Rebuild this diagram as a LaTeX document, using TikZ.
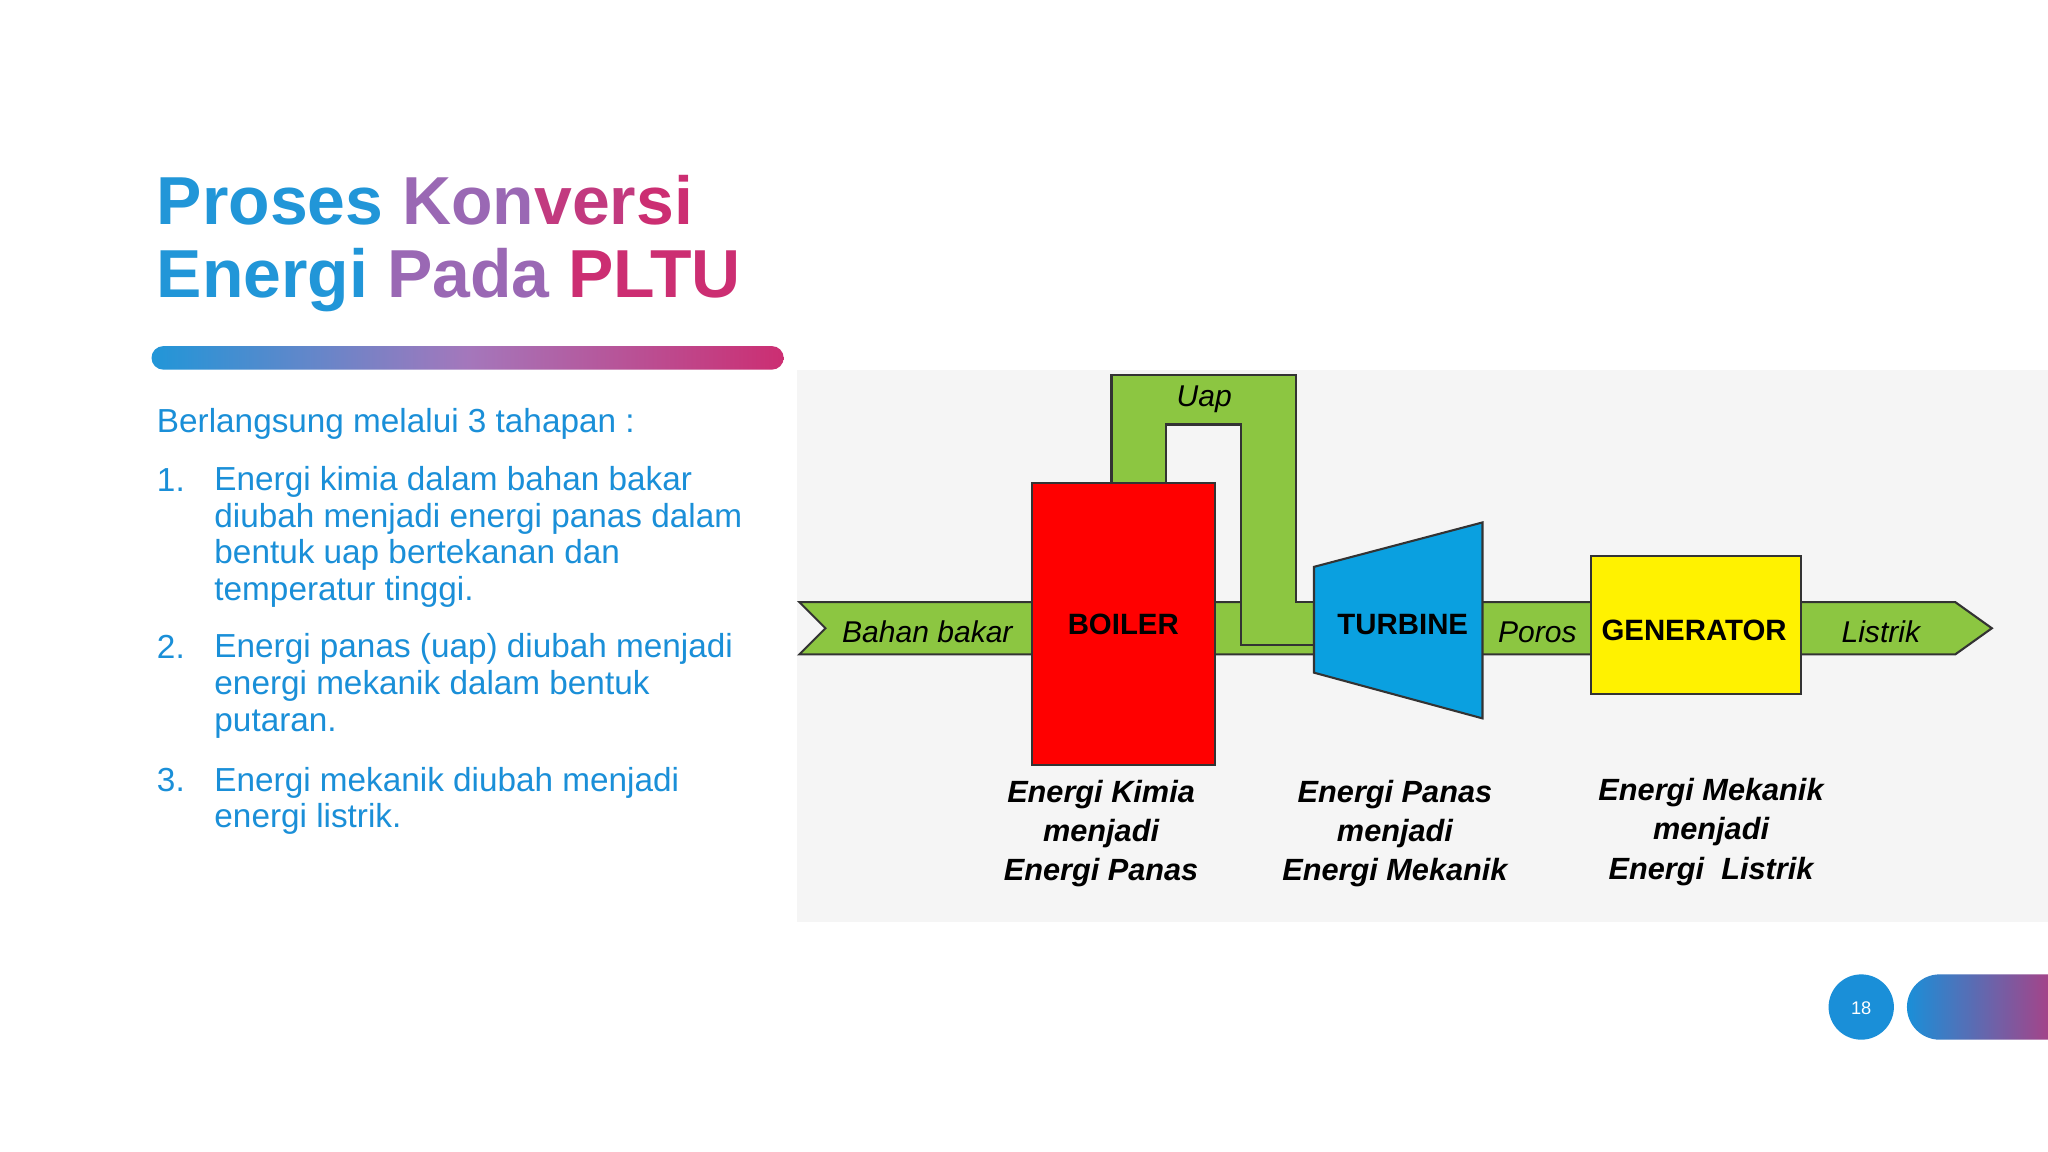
\documentclass[tikz,border=0pt]{standalone}
\usepackage{fontspec}
\setmainfont{Liberation Sans}
\begin{document}
\begin{tikzpicture}[x=1pt,y=-1pt,
  body/.style={anchor=base west,font=\fontsize{25.5}{28}\selectfont,text=txtblue,inner sep=0},
  lab/.style={font=\fontsize{23}{26}\selectfont\itshape,inner sep=0},
  big/.style={font=\fontsize{22.5}{26}\selectfont\bfseries,inner sep=0},
  caplab/.style={font=\fontsize{23.5}{30}\selectfont\bfseries\itshape,align=center,inner sep=0},
  shp/.style={draw=black!80,line width=1.6pt,line join=miter}]
\definecolor{txtblue}{HTML}{1A8FD8}
\definecolor{tblue}{HTML}{2196D8}
\definecolor{tpurp}{HTML}{9A68B4}
\definecolor{tmag}{HTML}{CC2E72}
\definecolor{gr}{HTML}{8CC641}
\definecolor{tb}{HTML}{0AA0E0}
\useasboundingbox (0,0) rectangle (1568,882);
\fill[white] (0,0) rectangle (1568,882);
% title
\node[anchor=base west,inner sep=0,font=\fontsize{52}{56}\selectfont\bfseries] (t1) at (120,172) {\textcolor{tblue}{Proses} \textcolor{tpurp}{Kon}\textcolor{tmag!80!tpurp}{ver}\textcolor{tmag}{si}};
\node[anchor=base west,inner sep=0,font=\fontsize{52}{56}\selectfont\bfseries] (t2) at (120,228) {\textcolor{tblue}{Energi} \textcolor{tpurp}{Pada} \textcolor{tmag}{PLTU}};
\shade[left color=tblue,right color=tmag,middle color=tpurp!90,rounded corners=9pt] (116,265) rectangle (600,283);
% body
\node[body] (b0) at (120,331) {Berlangsung melalui 3 tahapan :};
\node[body] (n1) at (120,376) {1.};
\node[body,align=left,anchor=north west] (i1) at (164,357) {Energi kimia dalam bahan bakar\\diubah menjadi energi panas dalam\\bentuk uap bertekanan dan\\temperatur tinggi.};
\node[body] (n2) at (120,504) {2.};
\node[body,align=left,anchor=north west] (i2) at (164,485) {Energi panas (uap) diubah menjadi\\energi mekanik dalam bentuk\\putaran.};
\node[body] (n3) at (120,606) {3.};
\node[body,align=left,anchor=north west] (i3) at (164,587) {Energi mekanik diubah menjadi\\energi listrik.};
% diagram
\fill[gray!8] (610,283) rectangle (1568,706);
\draw[shp,fill=gr] (612,461) -- (1497,461) -- (1525,481) -- (1497,501) -- (612,501) -- (632,481) -- cycle;
\draw[shp,fill=gr] (851,372) -- (851,287) -- (992,287) -- (992,461) -- (1006,461) -- (1006,494) -- (950,494) -- (950,325) -- (893,325) -- (893,372) -- cycle;
\draw[shp,fill=red] (790,370) rectangle (930,586);
\draw[shp,fill=tb] (1006,434) -- (1135,400) -- (1135,550) -- (1006,515) -- cycle;
\draw[shp,fill=yellow] (1218,426) rectangle (1379,531);
\node[lab] (uap) at (922,306) {Uap};
\node[lab] (bb) at (710,484) {Bahan bakar};
\node[big] (boiler) at (860,478) {BOILER};
\node[big] (turb) at (1074,478) {TURBINE};
\node[lab] (poros) at (1177,484) {Poros};
\node[big] (gen) at (1297,483) {GENERATOR};
\node[lab] (lis) at (1440,484) {Listrik};
\node[caplab] (c1) at (843,638) {Energi Kimia\\menjadi\\Energi Panas};
\node[caplab] (c2) at (1068,638) {Energi Panas\\menjadi\\Energi Mekanik};
\node[caplab] (c3) at (1310,637) {Energi Mekanik\\menjadi\\Energi\ \ Listrik};
% page
\shade[left color=txtblue,right color=tmag,rounded corners=25pt] (1460,746) rectangle (1600,796);
\fill[txtblue] (1425,771) circle (25);
\node[text=white,font=\fontsize{14}{16}\selectfont] (pg) at (1425,772) {18};
\end{tikzpicture}
\end{document}
